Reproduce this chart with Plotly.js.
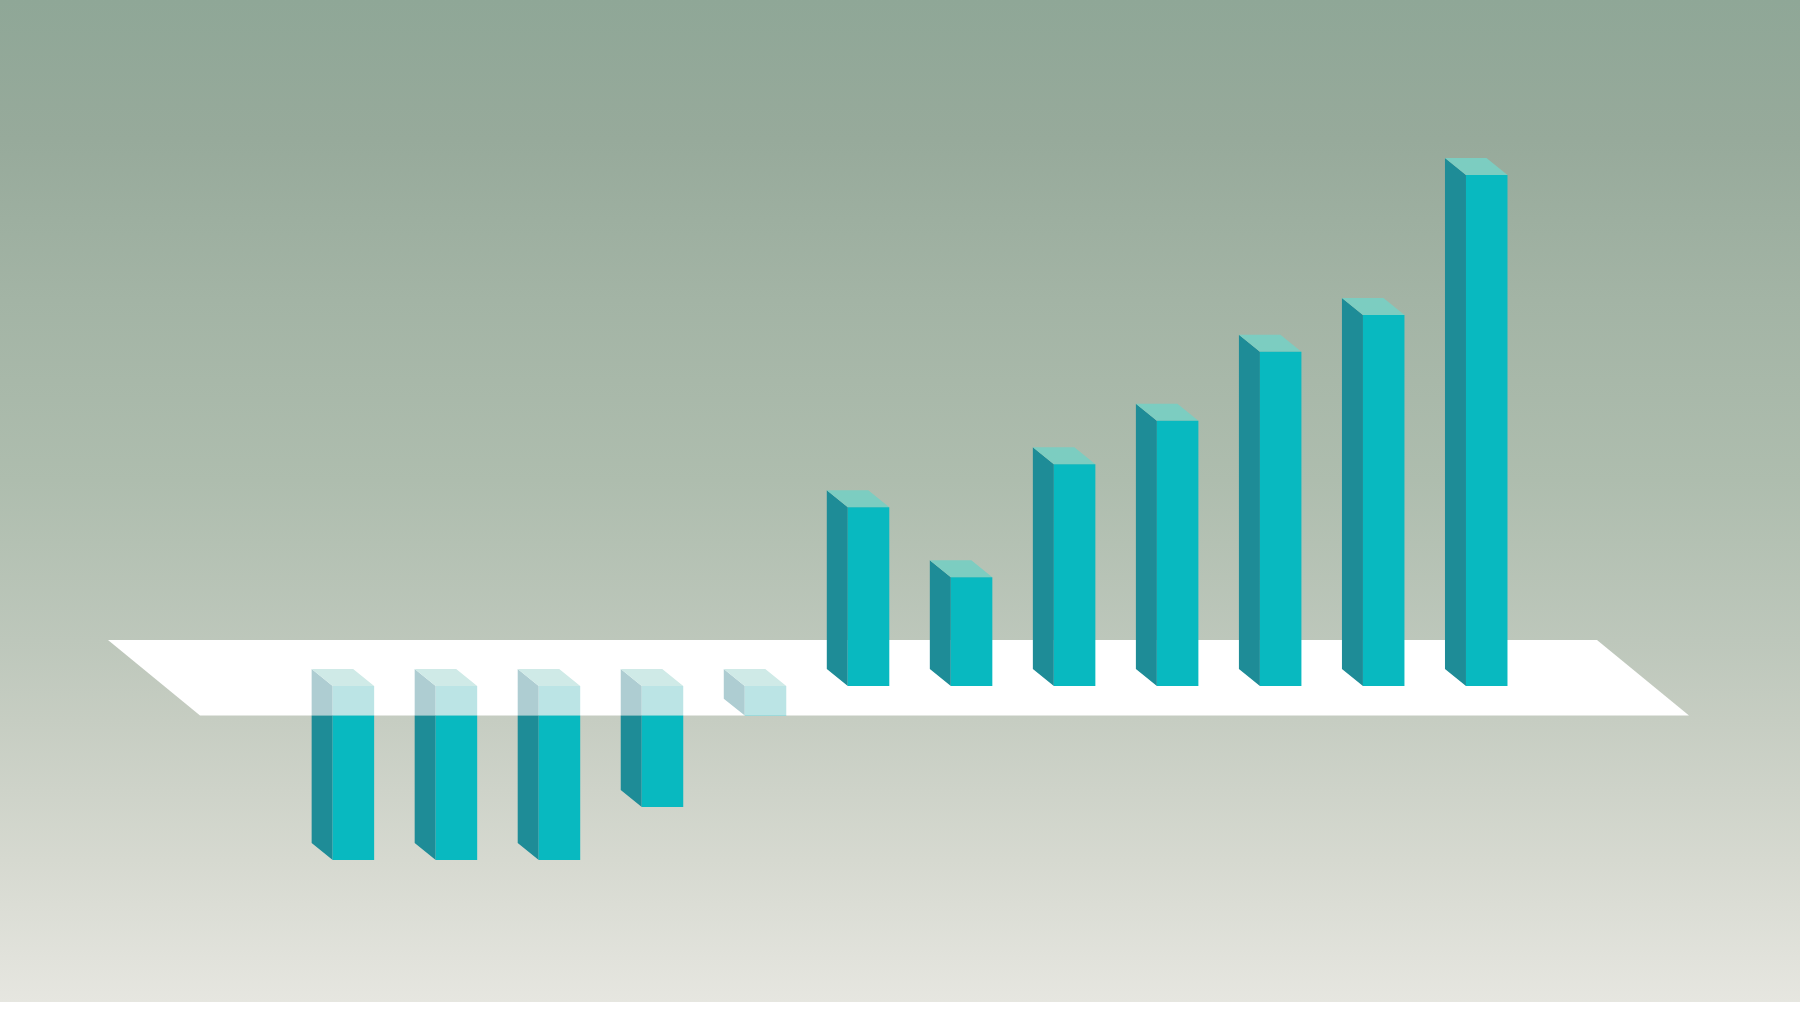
<!DOCTYPE html>
<html>
<head>
<meta charset="utf-8">
<script src="https://cdn.plot.ly/plotly-3.0.1.min.js"></script>
<style>
html,body{margin:0;padding:0;background:#fff;overflow:hidden}
#chart{width:1800px;height:1013px;background:linear-gradient(to bottom,#8fa797 0px,#97aa9b 140px,#a3b4a5 300px,#aebdae 480px,#bdc7bb 640px,#c6cdc2 720px,#d6d9d0 860px,#e6e6e0 1002px,#ffffff 1002px)}
</style>
</head>
<body>
<div id="chart"></div>
<script>
// Data (tallest bar = 100)
var categories = [1,2,3,4,5,6,7,8,9,10,11,12];
var values = [-34.05,-34.05,-34.05,-23.7,-5.8,35.0,21.3,43.4,51.9,65.4,72.6,100];

// Styling / layout constants
var W = 1800, H = 1013;
var unitX = 103.03, unitY = 5.11;          // pixels per axis unit
var firstCentre = 353.4, zeroPx = 686;
var barW = 41.5 / unitX, depthX = 21 / unitX, depthY = 17 / unitY;
var planeFront = -29.5 / unitY, planeBack = 46 / unitY;
var planeFrontL = 200, planeFrontR = 1689, planeBackL = 108, planeBackR = 1597;
var colFront = '#08b9c0', colSide = '#1e8c97', colTop = '#7ccdc1';
var colFrontL = '#bbe4e5', colSideL = '#aecdd2', colTopL = '#cfeae7';

function px(p){ return (p - firstCentre) / unitX + 1; }

function polyTrace(a, color){
  return {type:'scatter', mode:'none', x:a.x, y:a.y, fill:'toself', fillcolor:color,
          hoverinfo:'skip', showlegend:false};
}
function addPoly(a, pts){
  pts.forEach(function(p){ a.x.push(p[0]); a.y.push(p[1]); });
  a.x.push(pts[0][0]); a.y.push(pts[0][1]);
  a.x.push(null); a.y.push(null);
}
function acc(){ return {x:[], y:[]}; }

var plane = acc(), front = acc(), side = acc(), top_ = acc();
var frontL = acc(), sideL = acc(), topL = acc();

addPoly(plane, [[px(planeBackL),planeBack],[px(planeBackR),planeBack],
                [px(planeFrontR),planeFront],[px(planeFrontL),planeFront]]);

categories.forEach(function(c, i){
  var v = values[i], x1 = c - barW/2, x2 = x1 + barW, x0 = x1 - depthX;
  if (v >= 0) {
    addPoly(side, [[x0,depthY],[x1,0],[x1,v],[x0,v+depthY]]);
    addPoly(top_, [[x0,v+depthY],[x0+barW,v+depthY],[x2,v],[x1,v]]);
    addPoly(front, [[x1,0],[x2,0],[x2,v],[x1,v]]);
  } else {
    var cut = Math.max(v, planeFront), cutBack = Math.max(v + depthY, planeFront);
    addPoly(sideL, [[x0,depthY],[x1,0],[x1,cut],[x0,cutBack]]);
    addPoly(topL, [[x0,depthY],[x0+barW,depthY],[x2,0],[x1,0]]);
    addPoly(frontL, [[x1,0],[x2,0],[x2,cut],[x1,cut]]);
    if (v + depthY < planeFront) addPoly(side, [[x0,planeFront],[x1,planeFront],[x1,v],[x0,v+depthY]]);
    if (v < planeFront) addPoly(front, [[x1,planeFront],[x2,planeFront],[x2,v],[x1,v]]);
  }
});

var traces = [
  polyTrace(plane, '#ffffff'),
  polyTrace(sideL, colSideL),
  polyTrace(topL, colTopL),
  polyTrace(frontL, colFrontL),
  polyTrace(side, colSide),
  polyTrace(top_, colTop),
  polyTrace(front, colFront)
];

var layout = {
  width:W, height:H, margin:{l:0,r:0,t:0,b:0},
  paper_bgcolor:'rgba(0,0,0,0)', plot_bgcolor:'rgba(0,0,0,0)',
  showlegend:false,
  xaxis:{visible:false, fixedrange:true, range:[px(0), px(W)]},
  yaxis:{visible:false, fixedrange:true, range:[(zeroPx-H)/unitY, zeroPx/unitY]}
};
Plotly.newPlot('chart', traces, layout, {displayModeBar:false, staticPlot:true});
</script>
</body>
</html>
